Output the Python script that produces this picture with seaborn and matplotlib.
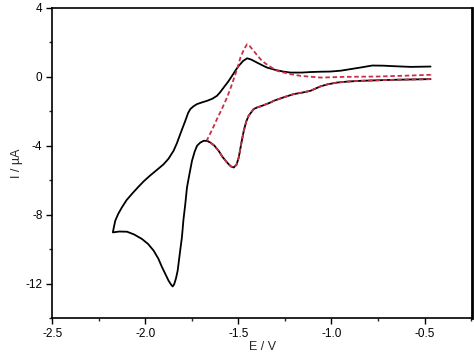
import matplotlib
matplotlib.use("Agg")
import matplotlib.pyplot as plt
from matplotlib.ticker import MultipleLocator
import seaborn as sns
import pandas as pd

# voltamograma completo (preto): ramo catódico -> vértice -> ramo anódico
e_black = [-0.468, -0.57, -0.665, -0.76, -0.844, -0.91, -0.97, -1.02, -1.059,
           -1.09, -1.113, -1.16, -1.203, -1.26, -1.31, -1.328, -1.373, -1.40,
           -1.418, -1.445, -1.458, -1.471, -1.485, -1.498, -1.51, -1.525,
           -1.54, -1.561, -1.585, -1.606, -1.63, -1.651, -1.668, -1.686,
           -1.705, -1.722, -1.735, -1.749, -1.762, -1.776, -1.785, -1.795,
           -1.803, -1.815, -1.826, -1.835, -1.845, -1.853, -1.862, -1.875,
           -1.892, -1.91, -1.93, -1.955, -1.985, -2.018, -2.06, -2.098,
           -2.14, -2.174,
           -2.168, -2.161, -2.145, -2.125, -2.10, -2.072, -2.04, -2.009,
           -1.973, -1.935, -1.902, -1.875, -1.848, -1.83, -1.812, -1.785,
           -1.77, -1.758, -1.74, -1.722, -1.695, -1.668, -1.64, -1.615,
           -1.597, -1.579, -1.555, -1.534, -1.515, -1.498, -1.475, -1.453,
           -1.43, -1.40, -1.373, -1.346, -1.30, -1.26, -1.22, -1.16, -1.113,
           -1.06, -1.005, -0.95, -0.898, -0.84, -0.781, -0.72, -0.665,
           -0.575, -0.468]
i_black = [-0.13, -0.15, -0.17, -0.20, -0.23, -0.27, -0.33, -0.43, -0.55,
           -0.70, -0.81, -0.92, -1.0, -1.2, -1.39, -1.49, -1.68, -1.78,
           -1.87, -2.26, -2.6, -3.13, -3.9, -4.68, -5.1, -5.26,
           -5.2, -4.97, -4.65, -4.29, -3.98, -3.81, -3.72, -3.71,
           -3.82, -4.0, -4.35, -4.87, -5.6, -6.42, -7.38, -8.3,
           -9.3, -10.3, -11.25, -11.7, -12.05, -12.17, -12.05, -11.83,
           -11.45, -11.05, -10.55, -10.09, -9.7, -9.41, -9.15, -8.99,
           -8.98, -9.03,
           -8.7, -8.35, -7.95, -7.57, -7.15, -6.8, -6.42, -6.07,
           -5.72, -5.38, -5.08, -4.75, -4.29, -3.85, -3.32, -2.55,
           -2.1, -1.87, -1.7, -1.58, -1.48, -1.39, -1.27, -1.10,
           -0.88, -0.62, -0.28, 0.06, 0.38, 0.64, 0.92, 1.08,
           1.0, 0.83, 0.68, 0.54, 0.40, 0.31, 0.25, 0.25, 0.28,
           0.30, 0.31, 0.36, 0.45, 0.55, 0.66, 0.65, 0.62,
           0.58, 0.6]

# varredura interrompida (vermelho tracejado)
e_red = [-0.468, -0.57, -0.665, -0.76, -0.844, -0.91, -0.97, -1.02, -1.059,
         -1.09, -1.113, -1.16, -1.203, -1.26, -1.31, -1.328, -1.373, -1.40,
         -1.418, -1.445, -1.458, -1.471, -1.485, -1.498, -1.51, -1.525,
         -1.54, -1.561, -1.585, -1.606, -1.63, -1.651, -1.668,
         -1.64, -1.615, -1.588, -1.561, -1.54, -1.516, -1.50, -1.489,
         -1.47, -1.453, -1.44, -1.418, -1.395, -1.373, -1.337, -1.292,
         -1.23, -1.167, -1.059, -0.934, -0.754, -0.60, -0.468, -0.468]
i_red = [-0.13, -0.15, -0.17, -0.20, -0.23, -0.27, -0.33, -0.43, -0.55,
         -0.70, -0.81, -0.92, -1.0, -1.2, -1.39, -1.49, -1.68, -1.78,
         -1.87, -2.26, -2.6, -3.13, -3.9, -4.68, -5.1, -5.26,
         -5.2, -4.97, -4.65, -4.29, -3.98, -3.81, -3.65,
         -3.05, -2.45, -1.85, -1.2, -0.6, 0.16, 0.7, 1.12,
         1.6, 1.9, 1.8, 1.51, 1.2, 0.93, 0.64, 0.35,
         0.18, 0.06, -0.04, 0.0, 0.02, 0.07, 0.12, 0.16]

df_black = pd.DataFrame({"E": e_black, "I": i_black})
df_red = pd.DataFrame({"E": e_red, "I": i_red})

sns.set_style("ticks")
plt.rcParams["font.family"] = ["Liberation Sans", "DejaVu Sans"]
plt.rcParams["axes.unicode_minus"] = False

fig = plt.figure(figsize=(4.74, 3.63), dpi=100)
ax = fig.add_axes([0.110, 0.124, 0.886, 0.854])

sns.lineplot(data=df_black, x="E", y="I", sort=False, estimator=None,
             color="black", linewidth=1.3, ax=ax)
sns.lineplot(data=df_red, x="E", y="I", sort=False, estimator=None,
             color="#c8304a", linewidth=1.3, ax=ax)
ax.lines[-1].set_dashes([2.5, 1.5])

ax.set_xlim(-2.5, -0.245)
ax.set_ylim(-14, 4)
ax.xaxis.set_major_locator(MultipleLocator(0.5))
ax.xaxis.set_minor_locator(MultipleLocator(0.25))
ax.yaxis.set_major_locator(MultipleLocator(4))
ax.yaxis.set_minor_locator(MultipleLocator(2))
ax.tick_params(which="major", direction="out", length=4, width=1, labelsize=8.5,
               colors="black", pad=3)
ax.tick_params(which="minor", direction="out", length=2.5, width=1)

for side in ["top", "right", "left", "bottom"]:
    ax.spines[side].set_visible(True)
    ax.spines[side].set_linewidth(1.2)
    ax.spines[side].set_color("black")
ax.spines["right"].set_linewidth(2)

ax.set_xlabel("E / V", fontsize=9, labelpad=1)
ax.set_ylabel("I / µA", fontsize=9, labelpad=2)

plt.savefig("out.png", dpi=100)
